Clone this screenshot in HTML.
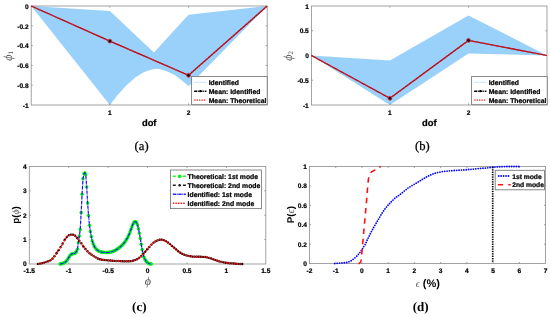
<!DOCTYPE html>
<html lang="en"><head><meta charset="utf-8"><title>Figure</title>
<style>html,body{margin:0;padding:0;background:#fff}svg{display:block}text{text-rendering:geometricPrecision}.b{stroke:#000;stroke-width:.22px}</style></head>
<body><svg width="550" height="317" viewBox="0 0 550 317">
<rect width="550" height="317" fill="#fff"/>
<polygon fill="#99d1fa" points="31.2,6 109.87,10.95 153.92,52.53 188.53,14.71 267.2,6 188.53,86.19 183.89,81.93 175.08,75.3 166.19,70.94 159.43,68.96 155.49,68.77 150.77,69.66 144.17,72.03 135.28,77.48 126.47,85.2 117.65,95.1 109.87,105 31.2,6"/>
<g stroke="#8c8c8c" stroke-width="0.8" fill="none"><rect x="31.2" y="6" width="236" height="99"/><line x1="109.87" y1="105" x2="109.87" y2="103.4"/><line x1="109.87" y1="6" x2="109.87" y2="7.6"/><line x1="188.53" y1="105" x2="188.53" y2="103.4"/><line x1="188.53" y1="6" x2="188.53" y2="7.6"/><line x1="31.2" y1="25.8" x2="32.8" y2="25.8"/><line x1="267.2" y1="25.8" x2="265.6" y2="25.8"/><line x1="31.2" y1="45.6" x2="32.8" y2="45.6"/><line x1="267.2" y1="45.6" x2="265.6" y2="45.6"/><line x1="31.2" y1="65.4" x2="32.8" y2="65.4"/><line x1="267.2" y1="65.4" x2="265.6" y2="65.4"/><line x1="31.2" y1="85.2" x2="32.8" y2="85.2"/><line x1="267.2" y1="85.2" x2="265.6" y2="85.2"/></g>
<polyline fill="none" stroke="#9c0810" stroke-width="1.25" points="31.2,6 109.87,41.14 188.53,75.3 267.2,6"/>
<polyline fill="none" stroke="#e01828" stroke-width="1.25" stroke-dasharray="1.6 1.2" points="31.2,6 109.87,41.14 188.53,75.3 267.2,6"/>
<circle cx="109.87" cy="41.14" r="1.9" fill="#140c10" stroke="#c83848" stroke-width="1.0"/>
<circle cx="188.53" cy="75.3" r="1.9" fill="#140c10" stroke="#c83848" stroke-width="1.0"/>
<text class="b" x="28.6" y="8.7" font-size="6.6" text-anchor="end" font-weight="bold" font-family='"Liberation Sans", Arial, Helvetica, sans-serif' fill="#000" >0</text>
<text class="b" x="28.6" y="28.5" font-size="6.6" text-anchor="end" font-weight="bold" font-family='"Liberation Sans", Arial, Helvetica, sans-serif' fill="#000" >-0.2</text>
<text class="b" x="28.6" y="48.3" font-size="6.6" text-anchor="end" font-weight="bold" font-family='"Liberation Sans", Arial, Helvetica, sans-serif' fill="#000" >-0.4</text>
<text class="b" x="28.6" y="68.1" font-size="6.6" text-anchor="end" font-weight="bold" font-family='"Liberation Sans", Arial, Helvetica, sans-serif' fill="#000" >-0.6</text>
<text class="b" x="28.6" y="87.9" font-size="6.6" text-anchor="end" font-weight="bold" font-family='"Liberation Sans", Arial, Helvetica, sans-serif' fill="#000" >-0.8</text>
<text class="b" x="28.6" y="107.7" font-size="6.6" text-anchor="end" font-weight="bold" font-family='"Liberation Sans", Arial, Helvetica, sans-serif' fill="#000" >-1</text>
<text class="b" x="109.87" y="114.6" font-size="6.6" text-anchor="middle" font-weight="bold" font-family='"Liberation Sans", Arial, Helvetica, sans-serif' fill="#000" >1</text>
<text class="b" x="188.53" y="114.6" font-size="6.6" text-anchor="middle" font-weight="bold" font-family='"Liberation Sans", Arial, Helvetica, sans-serif' fill="#000" >2</text>
<text class="b" x="149.2" y="126" font-size="9.4" text-anchor="middle" font-weight="bold" font-family='"Liberation Sans", Arial, Helvetica, sans-serif' fill="#000" >dof</text>
<g transform="translate(11.6,60.7) rotate(-90)"><text font-family='"Liberation Serif", "DejaVu Serif", serif' font-style="italic" font-size="12" fill="#505050"><tspan>ϕ</tspan><tspan font-style="normal" font-size="7" dx="0.1" dy="1.4">1</tspan></text></g>
<rect x="191.6" y="76.6" width="75.6" height="28.1" fill="#fff" stroke="#747474" stroke-width="0.85"/>
<line x1="194.2" x2="206.4" y1="82.2" y2="82.2" stroke="#cde5fb" stroke-width="1.1"/>
<line x1="194.2" x2="206.4" y1="91.2" y2="91.2" stroke="#000" stroke-width="1.4" stroke-dasharray="3 0.7 0.9 0.7"/>
<circle cx="200.3" cy="91.2" r="1.1" fill="#000"/>
<line x1="194.2" x2="206.4" y1="100.1" y2="100.1" stroke="#f02020" stroke-width="1.4" stroke-dasharray="1.4 1.0"/>
<text class="b" x="208.7" y="84.7" font-size="6.8" text-anchor="start" font-weight="bold" font-family='"Liberation Sans", Arial, Helvetica, sans-serif' fill="#000" >Identified</text>
<text class="b" x="208.7" y="93.7" font-size="6.8" text-anchor="start" font-weight="bold" font-family='"Liberation Sans", Arial, Helvetica, sans-serif' fill="#000" >Mean: Identified</text>
<text class="b" x="208.7" y="102.5" font-size="6.8" text-anchor="start" font-weight="bold" font-family='"Liberation Sans", Arial, Helvetica, sans-serif' fill="#000" >Mean: Theoretical</text>
<text x="141.6" y="150.2" font-size="12.6" text-anchor="middle" font-weight="normal" font-family='"Liberation Serif", "DejaVu Serif", serif' fill="#000" stroke="#000" stroke-width="0.25">(a)</text>
<polygon fill="#99d1fa" points="311.4,55.5 389.93,60.45 468.47,15.4 547,55.5 468.47,53.52 389.93,105 311.4,55.5"/>
<g stroke="#8c8c8c" stroke-width="0.8" fill="none"><rect x="311.4" y="6" width="235.6" height="99"/><line x1="389.93" y1="105" x2="389.93" y2="103.4"/><line x1="389.93" y1="6" x2="389.93" y2="7.6"/><line x1="468.47" y1="105" x2="468.47" y2="103.4"/><line x1="468.47" y1="6" x2="468.47" y2="7.6"/><line x1="311.4" y1="80.25" x2="313" y2="80.25"/><line x1="547" y1="80.25" x2="545.4" y2="80.25"/><line x1="311.4" y1="55.5" x2="313" y2="55.5"/><line x1="547" y1="55.5" x2="545.4" y2="55.5"/><line x1="311.4" y1="30.75" x2="313" y2="30.75"/><line x1="547" y1="30.75" x2="545.4" y2="30.75"/></g>
<polyline fill="none" stroke="#9c0810" stroke-width="1.25" points="311.4,55.5 389.93,98.32 468.47,40.4 547,55.5"/>
<polyline fill="none" stroke="#e01828" stroke-width="1.25" stroke-dasharray="1.6 1.2" points="311.4,55.5 389.93,98.32 468.47,40.4 547,55.5"/>
<circle cx="389.93" cy="98.32" r="1.9" fill="#140c10" stroke="#c83848" stroke-width="1.0"/>
<circle cx="468.47" cy="40.4" r="1.9" fill="#140c10" stroke="#c83848" stroke-width="1.0"/>
<text class="b" x="308.8" y="8.7" font-size="6.6" text-anchor="end" font-weight="bold" font-family='"Liberation Sans", Arial, Helvetica, sans-serif' fill="#000" >1</text>
<text class="b" x="308.8" y="33.45" font-size="6.6" text-anchor="end" font-weight="bold" font-family='"Liberation Sans", Arial, Helvetica, sans-serif' fill="#000" >0.5</text>
<text class="b" x="308.8" y="58.2" font-size="6.6" text-anchor="end" font-weight="bold" font-family='"Liberation Sans", Arial, Helvetica, sans-serif' fill="#000" >0</text>
<text class="b" x="308.8" y="82.95" font-size="6.6" text-anchor="end" font-weight="bold" font-family='"Liberation Sans", Arial, Helvetica, sans-serif' fill="#000" >-0.5</text>
<text class="b" x="308.8" y="107.7" font-size="6.6" text-anchor="end" font-weight="bold" font-family='"Liberation Sans", Arial, Helvetica, sans-serif' fill="#000" >-1</text>
<text class="b" x="389.93" y="114.6" font-size="6.6" text-anchor="middle" font-weight="bold" font-family='"Liberation Sans", Arial, Helvetica, sans-serif' fill="#000" >1</text>
<text class="b" x="468.47" y="114.6" font-size="6.6" text-anchor="middle" font-weight="bold" font-family='"Liberation Sans", Arial, Helvetica, sans-serif' fill="#000" >2</text>
<text class="b" x="429.3" y="126" font-size="9.4" text-anchor="middle" font-weight="bold" font-family='"Liberation Sans", Arial, Helvetica, sans-serif' fill="#000" >dof</text>
<g transform="translate(291.5,60.7) rotate(-90)"><text font-family='"Liberation Serif", "DejaVu Serif", serif' font-style="italic" font-size="12" fill="#505050"><tspan>ϕ</tspan><tspan font-style="normal" font-size="7" dx="0.1" dy="1.4">2</tspan></text></g>
<rect x="471.6" y="76.6" width="75.6" height="28.1" fill="#fff" stroke="#747474" stroke-width="0.85"/>
<line x1="474.2" x2="486.4" y1="82.2" y2="82.2" stroke="#cde5fb" stroke-width="1.1"/>
<line x1="474.2" x2="486.4" y1="91.2" y2="91.2" stroke="#000" stroke-width="1.4" stroke-dasharray="3 0.7 0.9 0.7"/>
<circle cx="480.3" cy="91.2" r="1.1" fill="#000"/>
<line x1="474.2" x2="486.4" y1="100.1" y2="100.1" stroke="#f02020" stroke-width="1.4" stroke-dasharray="1.4 1.0"/>
<text class="b" x="488.7" y="84.7" font-size="6.8" text-anchor="start" font-weight="bold" font-family='"Liberation Sans", Arial, Helvetica, sans-serif' fill="#000" >Identified</text>
<text class="b" x="488.7" y="93.7" font-size="6.8" text-anchor="start" font-weight="bold" font-family='"Liberation Sans", Arial, Helvetica, sans-serif' fill="#000" >Mean: Identified</text>
<text class="b" x="488.7" y="102.5" font-size="6.8" text-anchor="start" font-weight="bold" font-family='"Liberation Sans", Arial, Helvetica, sans-serif' fill="#000" >Mean: Theoretical</text>
<text x="422.3" y="150.2" font-size="12.6" text-anchor="middle" font-weight="normal" font-family='"Liberation Serif", "DejaVu Serif", serif' fill="#000" stroke="#000" stroke-width="0.25">(b)</text>
<g stroke="#8c8c8c" stroke-width="0.8" fill="none"><rect x="29.3" y="166.4" width="236.5" height="97.6"/><line x1="68.72" y1="264" x2="68.72" y2="262.4"/><line x1="68.72" y1="166.4" x2="68.72" y2="168"/><line x1="108.13" y1="264" x2="108.13" y2="262.4"/><line x1="108.13" y1="166.4" x2="108.13" y2="168"/><line x1="147.55" y1="264" x2="147.55" y2="262.4"/><line x1="147.55" y1="166.4" x2="147.55" y2="168"/><line x1="186.97" y1="264" x2="186.97" y2="262.4"/><line x1="186.97" y1="166.4" x2="186.97" y2="168"/><line x1="226.38" y1="264" x2="226.38" y2="262.4"/><line x1="226.38" y1="166.4" x2="226.38" y2="168"/><line x1="29.3" y1="239.6" x2="30.9" y2="239.6"/><line x1="265.8" y1="239.6" x2="264.2" y2="239.6"/><line x1="29.3" y1="215.2" x2="30.9" y2="215.2"/><line x1="265.8" y1="215.2" x2="264.2" y2="215.2"/><line x1="29.3" y1="190.8" x2="30.9" y2="190.8"/><line x1="265.8" y1="190.8" x2="264.2" y2="190.8"/></g>
<g fill="#06fc0e"><circle cx="59.89" cy="264" r="1.78"/><circle cx="60.81" cy="263.87" r="1.78"/><circle cx="61.74" cy="263.68" r="1.78"/><circle cx="62.66" cy="263.43" r="1.78"/><circle cx="63.59" cy="263.1" r="1.78"/><circle cx="64.51" cy="262.63" r="1.78"/><circle cx="65.43" cy="261.98" r="1.78"/><circle cx="66.36" cy="261.15" r="1.78"/><circle cx="67.28" cy="260.08" r="1.78"/><circle cx="68.21" cy="258.43" r="1.78"/><circle cx="69.13" cy="256.89" r="1.78"/><circle cx="70.06" cy="255.5" r="1.78"/><circle cx="70.98" cy="254.56" r="1.78"/><circle cx="71.91" cy="253.9" r="1.78"/><circle cx="72.83" cy="253.61" r="1.78"/><circle cx="73.75" cy="253.55" r="1.78"/><circle cx="74.68" cy="253.4" r="1.78"/><circle cx="75.6" cy="252.86" r="1.78"/><circle cx="76.53" cy="251.4" r="1.78"/><circle cx="77.45" cy="249.31" r="1.78"/><circle cx="78.38" cy="242.43" r="1.78"/><circle cx="79.3" cy="236.1" r="1.78"/><circle cx="80.23" cy="229.47" r="1.78"/><circle cx="81.15" cy="212.65" r="1.78"/><circle cx="82.08" cy="194.21" r="1.78"/><circle cx="83" cy="178.66" r="1.78"/><circle cx="83.92" cy="173.77" r="1.78"/><circle cx="84.85" cy="172.73" r="1.78"/><circle cx="85.77" cy="174.67" r="1.78"/><circle cx="86.7" cy="186.95" r="1.78"/><circle cx="87.62" cy="203.1" r="1.78"/><circle cx="88.55" cy="215.43" r="1.78"/><circle cx="89.47" cy="225.22" r="1.78"/><circle cx="90.4" cy="231.6" r="1.78"/><circle cx="91.32" cy="236.52" r="1.78"/><circle cx="92.24" cy="240.89" r="1.78"/><circle cx="93.17" cy="243.69" r="1.78"/><circle cx="94.09" cy="245.88" r="1.78"/><circle cx="95.02" cy="247.48" r="1.78"/><circle cx="95.94" cy="248.72" r="1.78"/><circle cx="96.87" cy="249.76" r="1.78"/><circle cx="97.79" cy="250.56" r="1.78"/><circle cx="98.72" cy="251.08" r="1.78"/><circle cx="99.64" cy="251.48" r="1.78"/><circle cx="100.57" cy="251.82" r="1.78"/><circle cx="101.49" cy="252.07" r="1.78"/><circle cx="102.41" cy="252.25" r="1.78"/><circle cx="103.34" cy="252.34" r="1.78"/><circle cx="104.26" cy="252.42" r="1.78"/><circle cx="105.19" cy="252.48" r="1.78"/><circle cx="106.11" cy="252.52" r="1.78"/><circle cx="107.04" cy="252.53" r="1.78"/><circle cx="107.96" cy="252.49" r="1.78"/><circle cx="108.89" cy="252.38" r="1.78"/><circle cx="109.81" cy="252.2" r="1.78"/><circle cx="110.73" cy="251.98" r="1.78"/><circle cx="111.66" cy="251.73" r="1.78"/><circle cx="112.58" cy="251.48" r="1.78"/><circle cx="113.51" cy="251.14" r="1.78"/><circle cx="114.43" cy="250.72" r="1.78"/><circle cx="115.36" cy="250.23" r="1.78"/><circle cx="116.28" cy="249.69" r="1.78"/><circle cx="117.21" cy="249.12" r="1.78"/><circle cx="118.13" cy="248.52" r="1.78"/><circle cx="119.06" cy="247.86" r="1.78"/><circle cx="119.98" cy="247.13" r="1.78"/><circle cx="120.9" cy="246.34" r="1.78"/><circle cx="121.83" cy="245.47" r="1.78"/><circle cx="122.75" cy="244.53" r="1.78"/><circle cx="123.68" cy="243.48" r="1.78"/><circle cx="124.6" cy="242.3" r="1.78"/><circle cx="125.53" cy="240.98" r="1.78"/><circle cx="126.45" cy="239.53" r="1.78"/><circle cx="127.38" cy="237.94" r="1.78"/><circle cx="128.3" cy="236.06" r="1.78"/><circle cx="129.22" cy="233.93" r="1.78"/><circle cx="130.15" cy="231.68" r="1.78"/><circle cx="131.07" cy="229.32" r="1.78"/><circle cx="132" cy="226.63" r="1.78"/><circle cx="132.92" cy="224.27" r="1.78"/><circle cx="133.85" cy="222.63" r="1.78"/><circle cx="134.77" cy="221.58" r="1.78"/><circle cx="135.7" cy="221.83" r="1.78"/><circle cx="136.62" cy="222.71" r="1.78"/><circle cx="137.55" cy="224.95" r="1.78"/><circle cx="138.47" cy="228.75" r="1.78"/><circle cx="139.39" cy="233.19" r="1.78"/><circle cx="140.32" cy="238.57" r="1.78"/><circle cx="141.24" cy="244.26" r="1.78"/><circle cx="142.17" cy="249.62" r="1.78"/><circle cx="143.09" cy="253.79" r="1.78"/><circle cx="144.02" cy="257.19" r="1.78"/><circle cx="144.94" cy="259.34" r="1.78"/><circle cx="145.87" cy="260.88" r="1.78"/><circle cx="146.79" cy="262.02" r="1.78"/><circle cx="147.71" cy="262.84" r="1.78"/><circle cx="148.64" cy="263.45" r="1.78"/><circle cx="149.56" cy="263.74" r="1.78"/><circle cx="150.49" cy="263.93" r="1.78"/><circle cx="151.41" cy="264" r="1.78"/></g>
<polyline fill="none" stroke="#1010f8" stroke-width="1.2" stroke-dasharray="3 0.6 0.8 0.6" points="59.89,264 60.81,263.87 61.74,263.68 62.66,263.43 63.59,263.1 64.51,262.63 65.43,261.98 66.36,261.15 67.28,260.08 68.21,258.43 69.13,256.89 70.06,255.5 70.98,254.56 71.91,253.9 72.83,253.61 73.75,253.55 74.68,253.4 75.6,252.86 76.53,251.4 77.45,249.31 78.38,242.43 79.3,236.1 80.23,229.47 81.15,212.65 82.08,194.21 83,178.66 83.92,173.77 84.85,172.73 85.77,174.67 86.7,186.95 87.62,203.1 88.55,215.43 89.47,225.22 90.4,231.6 91.32,236.52 92.24,240.89 93.17,243.69 94.09,245.88 95.02,247.48 95.94,248.72 96.87,249.76 97.79,250.56 98.72,251.08 99.64,251.48 100.57,251.82 101.49,252.07 102.41,252.25 103.34,252.34 104.26,252.42 105.19,252.48 106.11,252.52 107.04,252.53 107.96,252.49 108.89,252.38 109.81,252.2 110.73,251.98 111.66,251.73 112.58,251.48 113.51,251.14 114.43,250.72 115.36,250.23 116.28,249.69 117.21,249.12 118.13,248.52 119.06,247.86 119.98,247.13 120.9,246.34 121.83,245.47 122.75,244.53 123.68,243.48 124.6,242.3 125.53,240.98 126.45,239.53 127.38,237.94 128.3,236.06 129.22,233.93 130.15,231.68 131.07,229.32 132,226.63 132.92,224.27 133.85,222.63 134.77,221.58 135.7,221.83 136.62,222.71 137.55,224.95 138.47,228.75 139.39,233.19 140.32,238.57 141.24,244.26 142.17,249.62 143.09,253.79 144.02,257.19 144.94,259.34 145.87,260.88 146.79,262.02 147.71,262.84 148.64,263.45 149.56,263.74 150.49,263.93 151.41,264"/>
<g fill="#0a0a0a"><circle cx="37.97" cy="263.88" r="1.2"/><circle cx="40.03" cy="263.58" r="1.2"/><circle cx="42.1" cy="263.16" r="1.2"/><circle cx="44.16" cy="262.62" r="1.2"/><circle cx="46.22" cy="261.92" r="1.2"/><circle cx="48.28" cy="261.23" r="1.2"/><circle cx="50.35" cy="260.34" r="1.2"/><circle cx="52.41" cy="258.67" r="1.2"/><circle cx="54.47" cy="256.28" r="1.2"/><circle cx="56.53" cy="253.19" r="1.2"/><circle cx="58.6" cy="250.29" r="1.2"/><circle cx="60.66" cy="247.12" r="1.2"/><circle cx="62.72" cy="243.47" r="1.2"/><circle cx="64.78" cy="239.7" r="1.2"/><circle cx="66.85" cy="236.93" r="1.2"/><circle cx="68.91" cy="235.28" r="1.2"/><circle cx="70.97" cy="234.59" r="1.2"/><circle cx="73.03" cy="234.64" r="1.2"/><circle cx="75.1" cy="235.65" r="1.2"/><circle cx="77.16" cy="237.97" r="1.2"/><circle cx="79.22" cy="240.66" r="1.2"/><circle cx="81.28" cy="243.26" r="1.2"/><circle cx="83.34" cy="246.4" r="1.2"/><circle cx="85.41" cy="248.99" r="1.2"/><circle cx="87.47" cy="251.25" r="1.2"/><circle cx="89.53" cy="253.25" r="1.2"/><circle cx="91.59" cy="254.78" r="1.2"/><circle cx="93.66" cy="256.09" r="1.2"/><circle cx="95.72" cy="257.33" r="1.2"/><circle cx="97.78" cy="258.43" r="1.2"/><circle cx="99.84" cy="259.32" r="1.2"/><circle cx="101.91" cy="259.7" r="1.2"/><circle cx="103.97" cy="259.95" r="1.2"/><circle cx="106.03" cy="260.17" r="1.2"/><circle cx="108.09" cy="260.37" r="1.2"/><circle cx="110.16" cy="260.55" r="1.2"/><circle cx="112.22" cy="260.71" r="1.2"/><circle cx="114.28" cy="260.84" r="1.2"/><circle cx="116.34" cy="260.96" r="1.2"/><circle cx="118.41" cy="261.07" r="1.2"/><circle cx="120.47" cy="261.16" r="1.2"/><circle cx="122.53" cy="261.19" r="1.2"/><circle cx="124.59" cy="261.19" r="1.2"/><circle cx="126.66" cy="261.19" r="1.2"/><circle cx="128.72" cy="261.19" r="1.2"/><circle cx="130.78" cy="261.13" r="1.2"/><circle cx="132.84" cy="260.72" r="1.2"/><circle cx="134.9" cy="260.11" r="1.2"/><circle cx="136.97" cy="259.24" r="1.2"/><circle cx="139.03" cy="257.98" r="1.2"/><circle cx="141.09" cy="256.29" r="1.2"/><circle cx="143.15" cy="254.03" r="1.2"/><circle cx="145.22" cy="251.71" r="1.2"/><circle cx="147.28" cy="249.28" r="1.2"/><circle cx="149.34" cy="246.94" r="1.2"/><circle cx="151.4" cy="244.62" r="1.2"/><circle cx="153.47" cy="242.78" r="1.2"/><circle cx="155.53" cy="241.37" r="1.2"/><circle cx="157.59" cy="240.35" r="1.2"/><circle cx="159.65" cy="239.77" r="1.2"/><circle cx="161.72" cy="239.65" r="1.2"/><circle cx="163.78" cy="240.14" r="1.2"/><circle cx="165.84" cy="241.08" r="1.2"/><circle cx="167.9" cy="242.5" r="1.2"/><circle cx="169.97" cy="244.12" r="1.2"/><circle cx="172.03" cy="245.91" r="1.2"/><circle cx="174.09" cy="247.67" r="1.2"/><circle cx="176.15" cy="249.41" r="1.2"/><circle cx="178.22" cy="251.22" r="1.2"/><circle cx="180.28" cy="252.76" r="1.2"/><circle cx="182.34" cy="253.88" r="1.2"/><circle cx="184.4" cy="254.74" r="1.2"/><circle cx="186.47" cy="255.41" r="1.2"/><circle cx="188.53" cy="255.89" r="1.2"/><circle cx="190.59" cy="256.28" r="1.2"/><circle cx="192.65" cy="256.58" r="1.2"/><circle cx="194.71" cy="256.7" r="1.2"/><circle cx="196.78" cy="256.74" r="1.2"/><circle cx="198.84" cy="256.78" r="1.2"/><circle cx="200.9" cy="256.82" r="1.2"/><circle cx="202.96" cy="256.89" r="1.2"/><circle cx="205.03" cy="256.99" r="1.2"/><circle cx="207.09" cy="257.33" r="1.2"/><circle cx="209.15" cy="257.92" r="1.2"/><circle cx="211.21" cy="258.56" r="1.2"/><circle cx="213.28" cy="259.33" r="1.2"/><circle cx="215.34" cy="260.08" r="1.2"/><circle cx="217.4" cy="260.77" r="1.2"/><circle cx="219.46" cy="261.4" r="1.2"/><circle cx="221.53" cy="261.91" r="1.2"/><circle cx="223.59" cy="262.36" r="1.2"/><circle cx="225.65" cy="262.72" r="1.2"/><circle cx="227.71" cy="262.98" r="1.2"/><circle cx="229.78" cy="263.19" r="1.2"/><circle cx="231.84" cy="263.37" r="1.2"/><circle cx="233.9" cy="263.55" r="1.2"/><circle cx="235.96" cy="263.71" r="1.2"/><circle cx="238.03" cy="263.84" r="1.2"/><circle cx="240.09" cy="263.93" r="1.2"/><circle cx="242.15" cy="264" r="1.2"/></g>
<polyline fill="none" stroke="#ff1010" stroke-width="1.9" stroke-dasharray="1.45 1.15" points="37.97,263.88 40.03,263.58 42.1,263.16 44.16,262.62 46.22,261.92 48.28,261.23 50.35,260.34 52.41,258.67 54.47,256.28 56.53,253.19 58.6,250.29 60.66,247.12 62.72,243.47 64.78,239.7 66.85,236.93 68.91,235.28 70.97,234.59 73.03,234.64 75.1,235.65 77.16,237.97 79.22,240.66 81.28,243.26 83.34,246.4 85.41,248.99 87.47,251.25 89.53,253.25 91.59,254.78 93.66,256.09 95.72,257.33 97.78,258.43 99.84,259.32 101.91,259.7 103.97,259.95 106.03,260.17 108.09,260.37 110.16,260.55 112.22,260.71 114.28,260.84 116.34,260.96 118.41,261.07 120.47,261.16 122.53,261.19 124.59,261.19 126.66,261.19 128.72,261.19 130.78,261.13 132.84,260.72 134.9,260.11 136.97,259.24 139.03,257.98 141.09,256.29 143.15,254.03 145.22,251.71 147.28,249.28 149.34,246.94 151.4,244.62 153.47,242.78 155.53,241.37 157.59,240.35 159.65,239.77 161.72,239.65 163.78,240.14 165.84,241.08 167.9,242.5 169.97,244.12 172.03,245.91 174.09,247.67 176.15,249.41 178.22,251.22 180.28,252.76 182.34,253.88 184.4,254.74 186.47,255.41 188.53,255.89 190.59,256.28 192.65,256.58 194.71,256.7 196.78,256.74 198.84,256.78 200.9,256.82 202.96,256.89 205.03,256.99 207.09,257.33 209.15,257.92 211.21,258.56 213.28,259.33 215.34,260.08 217.4,260.77 219.46,261.4 221.53,261.91 223.59,262.36 225.65,262.72 227.71,262.98 229.78,263.19 231.84,263.37 233.9,263.55 235.96,263.71 238.03,263.84 240.09,263.93 242.15,264"/>
<text class="b" x="26.7" y="266.4" font-size="6.6" text-anchor="end" font-weight="bold" font-family='"Liberation Sans", Arial, Helvetica, sans-serif' fill="#000" >0</text>
<text class="b" x="26.7" y="242" font-size="6.6" text-anchor="end" font-weight="bold" font-family='"Liberation Sans", Arial, Helvetica, sans-serif' fill="#000" >1</text>
<text class="b" x="26.7" y="217.6" font-size="6.6" text-anchor="end" font-weight="bold" font-family='"Liberation Sans", Arial, Helvetica, sans-serif' fill="#000" >2</text>
<text class="b" x="26.7" y="193.2" font-size="6.6" text-anchor="end" font-weight="bold" font-family='"Liberation Sans", Arial, Helvetica, sans-serif' fill="#000" >3</text>
<text class="b" x="26.7" y="168.8" font-size="6.6" text-anchor="end" font-weight="bold" font-family='"Liberation Sans", Arial, Helvetica, sans-serif' fill="#000" >4</text>
<text class="b" x="29.3" y="273.4" font-size="6.6" text-anchor="middle" font-weight="bold" font-family='"Liberation Sans", Arial, Helvetica, sans-serif' fill="#000" >-1.5</text>
<text class="b" x="68.72" y="273.4" font-size="6.6" text-anchor="middle" font-weight="bold" font-family='"Liberation Sans", Arial, Helvetica, sans-serif' fill="#000" >-1</text>
<text class="b" x="108.13" y="273.4" font-size="6.6" text-anchor="middle" font-weight="bold" font-family='"Liberation Sans", Arial, Helvetica, sans-serif' fill="#000" >-0.5</text>
<text class="b" x="147.55" y="273.4" font-size="6.6" text-anchor="middle" font-weight="bold" font-family='"Liberation Sans", Arial, Helvetica, sans-serif' fill="#000" >0</text>
<text class="b" x="186.97" y="273.4" font-size="6.6" text-anchor="middle" font-weight="bold" font-family='"Liberation Sans", Arial, Helvetica, sans-serif' fill="#000" >0.5</text>
<text class="b" x="226.38" y="273.4" font-size="6.6" text-anchor="middle" font-weight="bold" font-family='"Liberation Sans", Arial, Helvetica, sans-serif' fill="#000" >1</text>
<text class="b" x="265.8" y="273.4" font-size="6.6" text-anchor="middle" font-weight="bold" font-family='"Liberation Sans", Arial, Helvetica, sans-serif' fill="#000" >1.5</text>
<text x="147.8" y="284.5" text-anchor="middle" font-family='"Liberation Serif", "DejaVu Serif", serif' font-style="italic" font-size="12" fill="#505050">ϕ</text>
<g transform="translate(19.0,215.0) rotate(-90)"><text text-anchor="middle" font-family='"Liberation Sans", Arial, Helvetica, sans-serif' font-weight="bold" font-size="9.8" fill="#000">p(<tspan font-family='"Liberation Serif", "DejaVu Serif", serif' font-weight="normal" font-style="italic" font-size="10" fill="#555">ϕ</tspan>)</text></g>
<rect x="170.5" y="170" width="90.9" height="38.6" fill="#fff" stroke="#747474" stroke-width="0.85"/>
<line x1="172.8" x2="185.9" y1="176.3" y2="176.3" stroke="#22f52a" stroke-width="1.5" stroke-dasharray="3 7.1 3"/>
<circle cx="179.65" cy="176.3" r="1.85" fill="#10f018"/>
<line x1="172.8" x2="185.9" y1="185.2" y2="185.2" stroke="#222" stroke-width="1.5" stroke-dasharray="3 7.1 3"/>
<circle cx="179.65" cy="185.2" r="1.3" fill="#111"/>
<line x1="172.8" x2="185.9" y1="194.2" y2="194.2" stroke="#2a2aff" stroke-width="1.5" stroke-dasharray="3.4 0.6 0.9 0.6"/>
<line x1="172.8" x2="185.3" y1="203.2" y2="203.2" stroke="#ff1818" stroke-width="1.5" stroke-dasharray="1.5 1.1"/>
<text class="b" x="187.6" y="178.7" font-size="6.82" text-anchor="start" font-weight="bold" font-family='"Liberation Sans", Arial, Helvetica, sans-serif' fill="#000" >Theoretical: 1st mode</text>
<text class="b" x="187.6" y="187.6" font-size="6.82" text-anchor="start" font-weight="bold" font-family='"Liberation Sans", Arial, Helvetica, sans-serif' fill="#000" >Theoretical: 2nd mode</text>
<text class="b" x="187.6" y="196.6" font-size="6.82" text-anchor="start" font-weight="bold" font-family='"Liberation Sans", Arial, Helvetica, sans-serif' fill="#000" >Identified: 1st mode</text>
<text class="b" x="187.6" y="205.6" font-size="6.82" text-anchor="start" font-weight="bold" font-family='"Liberation Sans", Arial, Helvetica, sans-serif' fill="#000" >Identified: 2nd mode</text>
<text x="139.3" y="310.6" font-size="13" text-anchor="middle" font-weight="bold" font-family='"Liberation Serif", "DejaVu Serif", serif' fill="#000" >(c)</text>
<g stroke="#8c8c8c" stroke-width="0.8" fill="none"><rect x="309.5" y="166.5" width="236" height="97.1"/><line x1="335.72" y1="263.6" x2="335.72" y2="262"/><line x1="335.72" y1="166.5" x2="335.72" y2="168.1"/><line x1="361.94" y1="263.6" x2="361.94" y2="262"/><line x1="361.94" y1="166.5" x2="361.94" y2="168.1"/><line x1="388.17" y1="263.6" x2="388.17" y2="262"/><line x1="388.17" y1="166.5" x2="388.17" y2="168.1"/><line x1="414.39" y1="263.6" x2="414.39" y2="262"/><line x1="414.39" y1="166.5" x2="414.39" y2="168.1"/><line x1="440.61" y1="263.6" x2="440.61" y2="262"/><line x1="440.61" y1="166.5" x2="440.61" y2="168.1"/><line x1="466.83" y1="263.6" x2="466.83" y2="262"/><line x1="466.83" y1="166.5" x2="466.83" y2="168.1"/><line x1="493.06" y1="263.6" x2="493.06" y2="262"/><line x1="493.06" y1="166.5" x2="493.06" y2="168.1"/><line x1="519.28" y1="263.6" x2="519.28" y2="262"/><line x1="519.28" y1="166.5" x2="519.28" y2="168.1"/><line x1="309.5" y1="244.18" x2="311.1" y2="244.18"/><line x1="545.5" y1="244.18" x2="543.9" y2="244.18"/><line x1="309.5" y1="224.76" x2="311.1" y2="224.76"/><line x1="545.5" y1="224.76" x2="543.9" y2="224.76"/><line x1="309.5" y1="205.34" x2="311.1" y2="205.34"/><line x1="545.5" y1="205.34" x2="543.9" y2="205.34"/><line x1="309.5" y1="185.92" x2="311.1" y2="185.92"/><line x1="545.5" y1="185.92" x2="543.9" y2="185.92"/></g>
<g fill="#0000ff"><circle cx="334.75" cy="263.6" r="0.9"/><circle cx="337.13" cy="263.3" r="0.9"/><circle cx="339.52" cy="263.08" r="0.9"/><circle cx="341.92" cy="262.91" r="0.9"/><circle cx="344.31" cy="262.77" r="0.9"/><circle cx="346.69" cy="262.49" r="0.9"/><circle cx="348.99" cy="261.8" r="0.9"/><circle cx="351.15" cy="260.76" r="0.9"/><circle cx="353.09" cy="259.35" r="0.9"/><circle cx="354.95" cy="257.83" r="0.9"/><circle cx="356.69" cy="256.19" r="0.9"/><circle cx="358.33" cy="254.44" r="0.9"/><circle cx="359.86" cy="252.58" r="0.9"/><circle cx="361.28" cy="250.65" r="0.9"/><circle cx="362.56" cy="248.62" r="0.9"/><circle cx="363.75" cy="246.53" r="0.9"/><circle cx="365.08" cy="244.54" r="0.9"/><circle cx="366.17" cy="242.4" r="0.9"/><circle cx="367.11" cy="240.2" r="0.9"/><circle cx="368.14" cy="238.03" r="0.9"/><circle cx="369.21" cy="235.88" r="0.9"/><circle cx="370.3" cy="233.75" r="0.9"/><circle cx="371.42" cy="231.62" r="0.9"/><circle cx="372.56" cy="229.51" r="0.9"/><circle cx="373.72" cy="227.41" r="0.9"/><circle cx="374.9" cy="225.32" r="0.9"/><circle cx="376.1" cy="223.24" r="0.9"/><circle cx="377.31" cy="221.17" r="0.9"/><circle cx="378.54" cy="219.1" r="0.9"/><circle cx="379.75" cy="217.03" r="0.9"/><circle cx="380.95" cy="214.96" r="0.9"/><circle cx="382.2" cy="212.91" r="0.9"/><circle cx="383.54" cy="210.91" r="0.9"/><circle cx="384.94" cy="208.97" r="0.9"/><circle cx="386.42" cy="207.08" r="0.9"/><circle cx="387.98" cy="205.25" r="0.9"/><circle cx="389.62" cy="203.5" r="0.9"/><circle cx="391.28" cy="201.77" r="0.9"/><circle cx="392.95" cy="200.05" r="0.9"/><circle cx="394.72" cy="198.42" r="0.9"/><circle cx="396.61" cy="196.94" r="0.9"/><circle cx="398.56" cy="195.55" r="0.9"/><circle cx="400.51" cy="194.15" r="0.9"/><circle cx="402.39" cy="192.66" r="0.9"/><circle cx="404.23" cy="191.12" r="0.9"/><circle cx="406.08" cy="189.59" r="0.9"/><circle cx="407.98" cy="188.12" r="0.9"/><circle cx="409.97" cy="186.78" r="0.9"/><circle cx="412.03" cy="185.55" r="0.9"/><circle cx="414.12" cy="184.37" r="0.9"/><circle cx="416.2" cy="183.18" r="0.9"/><circle cx="418.24" cy="181.91" r="0.9"/><circle cx="420.28" cy="180.64" r="0.9"/><circle cx="422.33" cy="179.4" r="0.9"/><circle cx="424.4" cy="178.19" r="0.9"/><circle cx="426.48" cy="176.98" r="0.9"/><circle cx="428.61" cy="175.89" r="0.9"/><circle cx="430.79" cy="174.88" r="0.9"/><circle cx="433" cy="173.95" r="0.9"/><circle cx="435.27" cy="173.17" r="0.9"/><circle cx="437.59" cy="172.56" r="0.9"/><circle cx="439.93" cy="172.04" r="0.9"/><circle cx="442.3" cy="171.61" r="0.9"/><circle cx="444.68" cy="171.29" r="0.9"/><circle cx="447.06" cy="171.04" r="0.9"/><circle cx="449.45" cy="170.84" r="0.9"/><circle cx="451.85" cy="170.66" r="0.9"/><circle cx="454.24" cy="170.5" r="0.9"/><circle cx="456.64" cy="170.35" r="0.9"/><circle cx="459.03" cy="170.22" r="0.9"/><circle cx="461.43" cy="170.08" r="0.9"/><circle cx="463.82" cy="169.93" r="0.9"/><circle cx="466.22" cy="169.74" r="0.9"/><circle cx="468.61" cy="169.52" r="0.9"/><circle cx="471" cy="169.29" r="0.9"/><circle cx="473.38" cy="169.06" r="0.9"/><circle cx="475.77" cy="168.81" r="0.9"/><circle cx="478.16" cy="168.58" r="0.9"/><circle cx="480.55" cy="168.39" r="0.9"/><circle cx="482.95" cy="168.21" r="0.9"/><circle cx="485.34" cy="168.03" r="0.9"/><circle cx="487.73" cy="167.81" r="0.9"/><circle cx="490.11" cy="167.51" r="0.9"/><circle cx="492.5" cy="167.26" r="0.9"/><circle cx="494.89" cy="167.06" r="0.9"/><circle cx="497.28" cy="166.88" r="0.9"/><circle cx="499.68" cy="166.75" r="0.9"/><circle cx="502.08" cy="166.65" r="0.9"/><circle cx="504.48" cy="166.57" r="0.9"/><circle cx="506.87" cy="166.52" r="0.9"/><circle cx="509.27" cy="166.5" r="0.9"/><circle cx="511.67" cy="166.5" r="0.9"/><circle cx="514.07" cy="166.5" r="0.9"/><circle cx="516.47" cy="166.5" r="0.9"/><circle cx="518.87" cy="166.5" r="0.9"/></g>
<polyline fill="none" stroke="#ff1010" stroke-width="1.6" stroke-dasharray="5.5 4.8" stroke-dashoffset="0" points="358.46,263.6 358.53,263.6 358.61,263.59 358.68,263.57 358.75,263.56 358.83,263.53 358.9,263.5 358.98,263.47 359.05,263.44 359.13,263.4 359.2,263.36 359.27,263.32 359.35,263.27 359.42,263.22 359.5,263.17 359.57,263.12 359.65,263.07 359.72,263 359.8,262.93 359.87,262.84 359.94,262.75 360.02,262.64 360.09,262.53 360.17,262.4 360.24,262.27 360.32,262.13 360.39,261.99 360.46,261.83 360.54,261.67 360.61,261.51 360.69,261.33 360.76,261.14 360.84,260.92 360.91,260.68 360.99,260.41 361.06,260.11 361.13,259.76 361.21,259.38 361.28,258.92 361.36,258.27 361.43,257.48 361.51,256.6 361.58,255.71 361.65,254.87 361.73,254.08 361.8,253.29 361.88,252.49 361.95,251.69 362.03,250.88 362.1,250.08 362.18,249.27 362.25,248.46 362.32,247.65 362.4,246.83 362.47,246.01 362.55,245.2 362.62,244.38 362.7,243.55 362.77,242.73 362.84,241.91 362.92,241.08 362.99,240.26 363.07,239.43 363.14,238.61 363.22,237.78 363.29,236.96 363.37,236.13 363.44,235.31 363.51,234.48 363.59,233.66 363.66,232.83 363.74,232.01 363.81,231.19 363.89,230.37 363.96,229.55 364.03,228.73 364.11,227.91 364.18,227.09 364.26,226.28 364.33,225.46 364.41,224.64 364.48,223.83 364.56,223.01 364.63,222.19 364.7,221.37 364.78,220.56 364.85,219.74 364.93,218.92 365,218.11 365.08,217.29 365.15,216.47 365.22,215.66 365.3,214.84 365.37,214.02 365.45,213.2 365.52,212.39 365.6,211.57 365.67,210.75 365.75,209.94 365.82,209.12 365.89,208.3 365.97,207.49 366.04,206.67 366.12,205.85 366.19,205.03 366.27,204.22 366.34,203.4 366.41,202.58 366.49,201.75 366.56,200.88 366.64,200 366.71,199.09 366.79,198.16 366.86,197.22 366.93,196.26 367.01,195.3 367.08,194.33 367.16,193.36 367.23,192.38 367.31,191.41 367.38,190.45 367.46,189.5 367.53,188.56 367.6,187.63 367.68,186.72 367.75,185.84 367.83,184.98 367.9,184.15 367.98,183.34 368.05,182.57 368.12,181.84 368.2,181.15 368.27,180.5 368.35,179.9 368.42,179.35 368.5,178.85 368.57,178.4 368.65,178.01 368.72,177.68 368.79,177.36 368.87,177.07 368.94,176.8 369.02,176.55 369.09,176.32 369.17,176.09 369.24,175.88 369.31,175.67 369.39,175.47 369.46,175.27 369.54,175.07 369.61,174.87 369.69,174.67 369.76,174.47 369.84,174.27 369.91,174.07 369.98,173.88 370.06,173.7 370.13,173.53 370.21,173.38 370.28,173.24 370.36,173.12 370.43,173.02 370.5,172.93 370.58,172.85 370.65,172.77 370.73,172.69 370.8,172.61 370.88,172.54 370.95,172.46 371.03,172.39 371.1,172.32 371.17,172.26 371.25,172.19 371.32,172.13 371.4,172.06 371.47,172 371.55,171.94 371.62,171.89 371.69,171.83 371.77,171.78 371.84,171.72 371.92,171.67 371.99,171.62 372.07,171.57 372.14,171.52 372.22,171.47 372.29,171.43 372.36,171.38 372.44,171.34 372.51,171.29 372.59,171.25 372.66,171.21 372.74,171.17 372.81,171.13 372.88,171.09 372.96,171.05 373.03,171.01 373.11,170.97 373.18,170.93 373.26,170.9 373.33,170.86 373.41,170.82 373.48,170.79 373.55,170.75 373.63,170.72 373.7,170.68 373.78,170.65 373.85,170.61 373.93,170.58 374,170.54 374.07,170.51 374.15,170.47 374.22,170.43 374.3,170.4 374.37,170.36 374.45,170.33 374.52,170.29 374.6,170.25 374.67,170.22 374.74,170.18 374.82,170.14 374.89,170.1 374.97,170.06 375.04,170.02 375.12,169.98 375.19,169.94 375.26,169.9 375.34,169.85 375.41,169.81 375.49,169.76 375.56,169.72 375.64,169.67 375.71,169.62 375.78,169.57 375.86,169.53 375.93,169.48 376.01,169.43 376.08,169.39 376.16,169.34 376.23,169.29 376.31,169.24 376.38,169.2 376.45,169.15 376.53,169.1 376.6,169.06 376.68,169.01 376.75,168.96 376.83,168.92 376.9,168.87 376.97,168.82 377.05,168.78 377.12,168.73 377.2,168.68 377.27,168.63 377.35,168.59 377.42,168.54 377.5,168.49 377.57,168.45 377.64,168.4 377.72,168.35 377.79,168.31 377.87,168.26 377.94,168.21 378.02,168.17 378.09,168.12 378.16,168.07 378.24,168.03 378.31,167.98 378.39,167.93 378.46,167.89 378.54,167.84 378.61,167.8 378.69,167.75 378.76,167.7 378.83,167.66 378.91,167.61 378.98,167.56 379.06,167.52 379.13,167.47 379.21,167.42 379.28,167.38 379.35,167.33 379.43,167.28 379.5,167.24 379.58,167.19 379.65,167.15 379.73,167.1 379.8,167.05 379.88,167.01 379.95,166.96 380.02,166.91 380.1,166.87 380.17,166.82 380.25,166.78 380.32,166.73 380.4,166.68 380.47,166.64 380.54,166.59 380.62,166.55 380.69,166.5"/>
<g fill="#000"><rect x="491.86" y="166.8" width="1.7" height="1.35"/><rect x="491.86" y="169.2" width="1.7" height="1.35"/><rect x="491.86" y="171.6" width="1.7" height="1.35"/><rect x="491.86" y="174" width="1.7" height="1.35"/><rect x="491.86" y="176.4" width="1.7" height="1.35"/><rect x="491.86" y="178.8" width="1.7" height="1.35"/><rect x="491.86" y="181.2" width="1.7" height="1.35"/><rect x="491.86" y="183.6" width="1.7" height="1.35"/><rect x="491.86" y="186" width="1.7" height="1.35"/><rect x="491.86" y="188.4" width="1.7" height="1.35"/><rect x="491.86" y="190.8" width="1.7" height="1.35"/><rect x="491.86" y="193.2" width="1.7" height="1.35"/><rect x="491.86" y="195.6" width="1.7" height="1.35"/><rect x="491.86" y="198" width="1.7" height="1.35"/><rect x="491.86" y="200.4" width="1.7" height="1.35"/><rect x="491.86" y="202.8" width="1.7" height="1.35"/><rect x="491.86" y="205.2" width="1.7" height="1.35"/><rect x="491.86" y="207.6" width="1.7" height="1.35"/><rect x="491.86" y="210" width="1.7" height="1.35"/><rect x="491.86" y="212.4" width="1.7" height="1.35"/><rect x="491.86" y="214.8" width="1.7" height="1.35"/><rect x="491.86" y="217.2" width="1.7" height="1.35"/><rect x="491.86" y="219.6" width="1.7" height="1.35"/><rect x="491.86" y="222" width="1.7" height="1.35"/><rect x="491.86" y="224.4" width="1.7" height="1.35"/><rect x="491.86" y="226.8" width="1.7" height="1.35"/><rect x="491.86" y="229.2" width="1.7" height="1.35"/><rect x="491.86" y="231.6" width="1.7" height="1.35"/><rect x="491.86" y="234" width="1.7" height="1.35"/><rect x="491.86" y="236.4" width="1.7" height="1.35"/><rect x="491.86" y="238.8" width="1.7" height="1.35"/><rect x="491.86" y="241.2" width="1.7" height="1.35"/><rect x="491.86" y="243.6" width="1.7" height="1.35"/><rect x="491.86" y="246" width="1.7" height="1.35"/><rect x="491.86" y="248.4" width="1.7" height="1.35"/><rect x="491.86" y="250.8" width="1.7" height="1.35"/><rect x="491.86" y="253.2" width="1.7" height="1.35"/><rect x="491.86" y="255.6" width="1.7" height="1.35"/><rect x="491.86" y="258" width="1.7" height="1.35"/><rect x="491.86" y="260.4" width="1.7" height="1.35"/></g>
<text class="b" x="306.9" y="266" font-size="6.6" text-anchor="end" font-weight="bold" font-family='"Liberation Sans", Arial, Helvetica, sans-serif' fill="#000" >0</text>
<text class="b" x="306.9" y="246.58" font-size="6.6" text-anchor="end" font-weight="bold" font-family='"Liberation Sans", Arial, Helvetica, sans-serif' fill="#000" >0.2</text>
<text class="b" x="306.9" y="227.16" font-size="6.6" text-anchor="end" font-weight="bold" font-family='"Liberation Sans", Arial, Helvetica, sans-serif' fill="#000" >0.4</text>
<text class="b" x="306.9" y="207.74" font-size="6.6" text-anchor="end" font-weight="bold" font-family='"Liberation Sans", Arial, Helvetica, sans-serif' fill="#000" >0.6</text>
<text class="b" x="306.9" y="188.32" font-size="6.6" text-anchor="end" font-weight="bold" font-family='"Liberation Sans", Arial, Helvetica, sans-serif' fill="#000" >0.8</text>
<text class="b" x="306.9" y="168.9" font-size="6.6" text-anchor="end" font-weight="bold" font-family='"Liberation Sans", Arial, Helvetica, sans-serif' fill="#000" >1</text>
<text class="b" x="309.5" y="272.8" font-size="6.6" text-anchor="middle" font-weight="bold" font-family='"Liberation Sans", Arial, Helvetica, sans-serif' fill="#000" >-2</text>
<text class="b" x="335.72" y="272.8" font-size="6.6" text-anchor="middle" font-weight="bold" font-family='"Liberation Sans", Arial, Helvetica, sans-serif' fill="#000" >-1</text>
<text class="b" x="361.94" y="272.8" font-size="6.6" text-anchor="middle" font-weight="bold" font-family='"Liberation Sans", Arial, Helvetica, sans-serif' fill="#000" >0</text>
<text class="b" x="388.17" y="272.8" font-size="6.6" text-anchor="middle" font-weight="bold" font-family='"Liberation Sans", Arial, Helvetica, sans-serif' fill="#000" >1</text>
<text class="b" x="414.39" y="272.8" font-size="6.6" text-anchor="middle" font-weight="bold" font-family='"Liberation Sans", Arial, Helvetica, sans-serif' fill="#000" >2</text>
<text class="b" x="440.61" y="272.8" font-size="6.6" text-anchor="middle" font-weight="bold" font-family='"Liberation Sans", Arial, Helvetica, sans-serif' fill="#000" >3</text>
<text class="b" x="466.83" y="272.8" font-size="6.6" text-anchor="middle" font-weight="bold" font-family='"Liberation Sans", Arial, Helvetica, sans-serif' fill="#000" >4</text>
<text class="b" x="493.06" y="272.8" font-size="6.6" text-anchor="middle" font-weight="bold" font-family='"Liberation Sans", Arial, Helvetica, sans-serif' fill="#000" >5</text>
<text class="b" x="519.28" y="272.8" font-size="6.6" text-anchor="middle" font-weight="bold" font-family='"Liberation Sans", Arial, Helvetica, sans-serif' fill="#000" >6</text>
<text class="b" x="545.5" y="272.8" font-size="6.6" text-anchor="middle" font-weight="bold" font-family='"Liberation Sans", Arial, Helvetica, sans-serif' fill="#000" >7</text>
<text x="427.8" y="286.8" text-anchor="middle" font-family='"Liberation Sans", Arial, Helvetica, sans-serif' font-weight="bold" font-size="11" fill="#000"><tspan font-family='"Liberation Serif", "DejaVu Serif", serif' font-weight="normal" font-style="italic" font-size="10" fill="#555">ϵ</tspan> (%)</text>
<g transform="translate(293.6,214.6) rotate(-90)"><text text-anchor="middle" font-family='"Liberation Sans", Arial, Helvetica, sans-serif' font-weight="bold" font-size="9.8" fill="#000">P(<tspan font-family='"Liberation Serif", "DejaVu Serif", serif' font-weight="normal" font-style="italic" font-size="10.5" fill="#555">ϵ</tspan>)</text></g>
<rect x="495.2" y="170.3" width="49.3" height="19.5" fill="#fff" stroke="#747474" stroke-width="0.85"/>
<g fill="#0000ff"><circle cx="498.7" cy="176" r="0.9"/><circle cx="501.15" cy="176" r="0.9"/><circle cx="503.6" cy="176" r="0.9"/><circle cx="506.05" cy="176" r="0.9"/><circle cx="508.5" cy="176" r="0.9"/></g>
<line x1="497.9" x2="510.7" y1="184.7" y2="184.7" stroke="#ff1010" stroke-width="1.6" stroke-dasharray="5.2 5.2"/>
<text class="b" x="512.2" y="178.5" font-size="6.72" text-anchor="start" font-weight="bold" font-family='"Liberation Sans", Arial, Helvetica, sans-serif' fill="#000" >1st mode</text>
<text class="b" x="512.2" y="187.2" font-size="6.72" text-anchor="start" font-weight="bold" font-family='"Liberation Sans", Arial, Helvetica, sans-serif' fill="#000" >2nd mode</text>
<text x="420.6" y="310.6" font-size="13" text-anchor="middle" font-weight="bold" font-family='"Liberation Serif", "DejaVu Serif", serif' fill="#000" >(d)</text>
</svg></body></html>
